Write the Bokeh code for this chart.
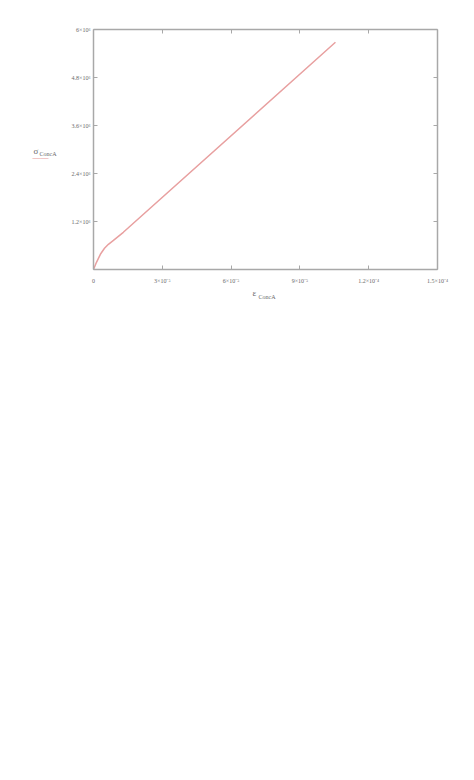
from bokeh.plotting import figure
from bokeh.models import Range1d, LinearAxis, FixedTicker
from bokeh.layouts import row, column
from bokeh.core.properties import value
from bokeh.embed import file_html
from bokeh.resources import INLINE

# data: strain vs stress for concrete A
strain = [0.0, 1.3e-6, 3.0e-6, 4.8e-6, 6.5e-6, 8.7e-6, 1.3e-5, 1.055e-4]
stress = [0.0, 0.18e6, 0.38e6, 0.53e6, 0.63e6, 0.73e6, 0.93e6, 5.68e6]

x_ticks = [0.0, 3e-5, 6e-5, 9e-5, 1.2e-4, 1.5e-4]
x_tick_labels = ["0", "3×10⁻⁵", "6×10⁻⁵", "9×10⁻⁵", "1.2×10⁻⁴", "1.5×10⁻⁴"]
y_ticks = [0.0, 1.2e6, 2.4e6, 3.6e6, 4.8e6, 6e6]
y_tick_labels = ["", "1.2×10⁶", "2.4×10⁶", "3.6×10⁶", "4.8×10⁶", "6×10⁶"]

FONT = "Liberation Serif"
AX = "#a8a8a8"
TXT = "#6a6a6a"
LINE = "#e8a0a0"

LW = 60          # left strip width
HP = 29 + 240 + 18  # main figure height
W = 458


def blank(fig):
    fig.xgrid.visible = False
    fig.ygrid.visible = False
    fig.outline_line_color = None
    fig.background_fill_color = "white"
    fig.border_fill_color = "white"


p = figure(width=W - LW, height=HP, output_backend="svg", toolbar_location=None,
           x_range=Range1d(0, 1.5e-4), y_range=Range1d(0, 6e6),
           min_border_left=93 - LW, min_border_right=21, min_border_top=29, min_border_bottom=18,
           x_axis_location=None, y_axis_location=None)
blank(p)


def style(ax, ticks, labels, show):
    ax.ticker = FixedTicker(ticks=ticks)
    ax.major_label_overrides = {t: l for t, l in zip(ticks, labels)}
    ax.axis_line_color = AX
    ax.axis_line_width = 1.5
    ax.major_tick_line_color = AX
    ax.major_tick_in = 4
    ax.major_tick_out = 0
    ax.minor_tick_line_color = None
    ax.major_label_text_font = FONT
    ax.major_label_text_font_size = "6px"
    ax.major_label_text_color = TXT
    ax.major_label_standoff = 8
    if not show:
        ax.major_label_text_alpha = 0


bx = LinearAxis(); style(bx, x_ticks, x_tick_labels, True); p.add_layout(bx, "below")
tx = LinearAxis(); style(tx, x_ticks, x_tick_labels, False); p.add_layout(tx, "above")
ly = LinearAxis(); style(ly, y_ticks, y_tick_labels, True); ly.major_label_standoff = 3; p.add_layout(ly, "left")
ry = LinearAxis(); style(ry, y_ticks, y_tick_labels, False); p.add_layout(ry, "right")

p.line(strain, stress, line_color=LINE, line_width=1.5)

# left strip with the y expression and its line sample
q = figure(width=LW, height=HP, output_backend="svg", toolbar_location=None,
           x_range=Range1d(0, LW), y_range=Range1d(HP, 0),
           min_border_left=0, min_border_right=0, min_border_top=0, min_border_bottom=0,
           x_axis_location=None, y_axis_location=None)
blank(q)
q.text(x=[33], y=[145], text=["σ"], text_font=value(FONT), text_font_size="9px",
       text_color=TXT, text_align="left", text_baseline="middle")
q.text(x=[39], y=[149], text=["ConcA"], text_font=value(FONT), text_font_size="6px",
       text_color=TXT, text_align="left", text_baseline="middle")
q.text(x=[32], y=[153], text=["——"], text_font=value(FONT), text_font_size="8px",
       text_color=LINE, text_align="left", text_baseline="middle")

# bottom strip with the x expression
HB = 22
r = figure(width=W, height=HB, output_backend="svg", toolbar_location=None,
           x_range=Range1d(0, W), y_range=Range1d(HB, 0),
           min_border_left=0, min_border_right=0, min_border_top=0, min_border_bottom=0,
           x_axis_location=None, y_axis_location=None)
blank(r)
r.text(x=[252], y=[5], text=["ε"], text_font=value(FONT), text_font_size="9px",
       text_color=TXT, text_align="left", text_baseline="middle")
r.text(x=[258], y=[9], text=["ConcA"], text_font=value(FONT), text_font_size="6px",
       text_color=TXT, text_align="left", text_baseline="middle")

layout = column(row(q, p, spacing=0), r, spacing=0)
open("out.html", "w").write(file_html(layout, INLINE))
